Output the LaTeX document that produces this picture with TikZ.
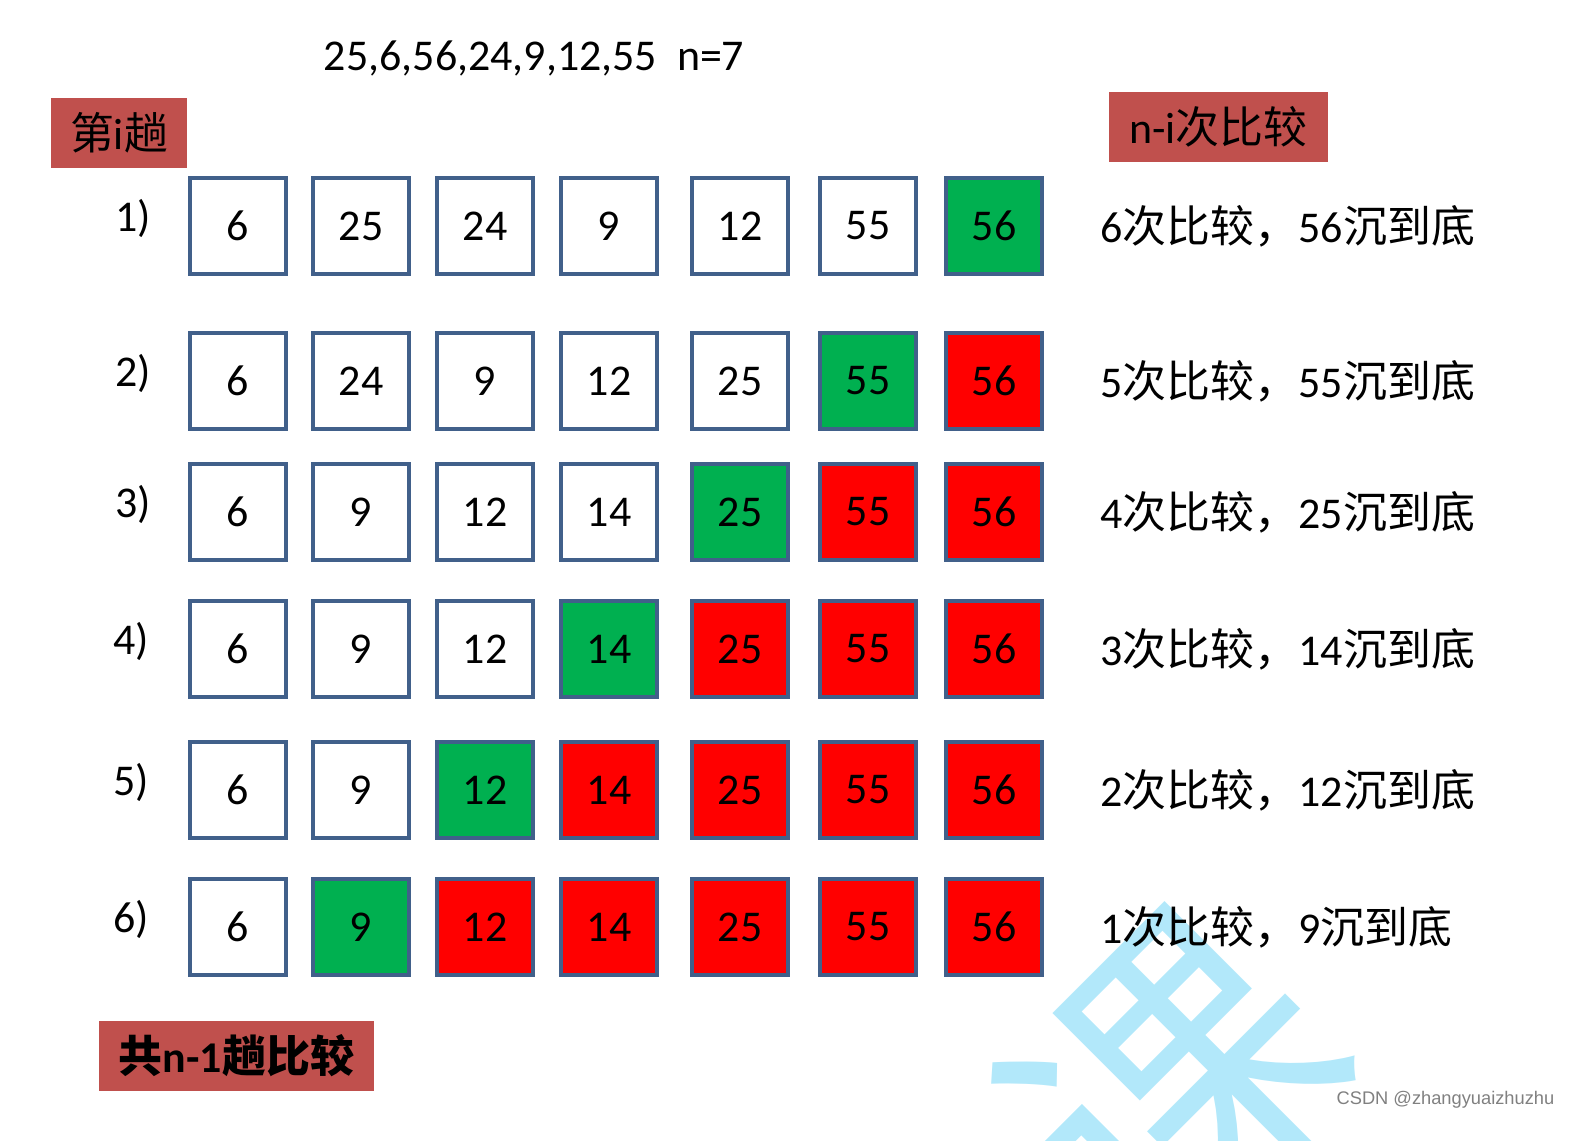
\documentclass[tikz,border=0pt]{standalone}
\usepackage{fontspec}
\setmainfont{Carlito}
\newfontfamily\zhfont{Noto Sans CJK SC}
\newfontfamily\markfont{Liberation Sans}
\usepackage{tikz}
\usetikzlibrary{calc}

\definecolor{hdred}{RGB}{192,80,77}
\definecolor{cellblue}{RGB}{65,96,138}
\definecolor{sunkgreen}{RGB}{0,176,80}
\definecolor{sunkred}{RGB}{255,0,0}
\definecolor{wmblue}{RGB}{178,232,250}

\begin{document}
\begin{tikzpicture}

    \tikzstyle{cell}=[rectangle, draw=cellblue, line width=1.1pt, minimum size=0.96cm, inner sep=0pt, font=\fontsize{12.5}{14}\selectfont];
    \tikzstyle{sinking}=[cell, fill=sunkgreen];
    \tikzstyle{sunk}=[cell, fill=sunkred];
    \tikzstyle{header}=[rectangle, fill=hdred, inner sep=0pt, minimum height=0.70cm, font=\fontsize{12.5}{14}\selectfont];
    \tikzstyle{txt}=[inner sep=0pt, font=\fontsize{12.5}{14}\selectfont];

    \useasboundingbox (0,0) rectangle (15.96,-11.40);

    % watermark
    \begin{scope}
    \clip (0,0) rectangle (15.96,-11.40);
    \node[text=wmblue, rotate=45, inner sep=0pt, font=\zhfont\fontsize{90}{90}\selectfont] (wm) at (11.72,-10.85) {课};
    \end{scope}

    \node[txt] (seq) at (5.34,-0.58) {25,6,56,24,9,12,55\ \ n=7};
    \node[header, minimum width=1.36cm] (pass) at (1.19,-1.33) {{\zhfont 第}i{\zhfont 趟}};
    \node[header, minimum width=2.19cm] (cmp) at (12.185,-1.27) {n-i{\zhfont 次比较}};
    \node[header, minimum width=2.75cm] (total) at (2.365,-10.56) {{\zhfont\bfseries 共}\textbf{n-1}{\zhfont\bfseries 趟比较}};

    % 1)
    \node[cell] (r1c1) at (2.38,-2.26) {6};
    \node[cell] (r1c2) at ($(r1c1)+(1.23,0)$) {25};
    \node[cell] (r1c3) at ($(r1c2)+(1.24,0)$) {24};
    \node[cell] (r1c4) at ($(r1c3)+(1.24,0)$) {9};
    \node[cell] (r1c5) at ($(r1c4)+(1.31,0)$) {12};
    \node[cell] (r1c6) at ($(r1c5)+(1.28,0)$) {55};
    \node[sinking] (r1c7) at ($(r1c6)+(1.26,0)$) {56};

    % 2)
    \node[cell] (r2c1) at ($(r1c1)+(0,-1.55)$) {6};
    \node[cell] (r2c2) at ($(r1c2)+(0,-1.55)$) {24};
    \node[cell] (r2c3) at ($(r1c3)+(0,-1.55)$) {9};
    \node[cell] (r2c4) at ($(r1c4)+(0,-1.55)$) {12};
    \node[cell] (r2c5) at ($(r1c5)+(0,-1.55)$) {25};
    \node[sinking] (r2c6) at ($(r1c6)+(0,-1.55)$) {55};
    \node[sunk] (r2c7) at ($(r1c7)+(0,-1.55)$) {56};

    % 3)
    \node[cell] (r3c1) at ($(r2c1)+(0,-1.31)$) {6};
    \node[cell] (r3c2) at ($(r2c2)+(0,-1.31)$) {9};
    \node[cell] (r3c3) at ($(r2c3)+(0,-1.31)$) {12};
    \node[cell] (r3c4) at ($(r2c4)+(0,-1.31)$) {14};
    \node[sinking] (r3c5) at ($(r2c5)+(0,-1.31)$) {25};
    \node[sunk] (r3c6) at ($(r2c6)+(0,-1.31)$) {55};
    \node[sunk] (r3c7) at ($(r2c7)+(0,-1.31)$) {56};

    % 4)
    \node[cell] (r4c1) at ($(r3c1)+(0,-1.37)$) {6};
    \node[cell] (r4c2) at ($(r3c2)+(0,-1.37)$) {9};
    \node[cell] (r4c3) at ($(r3c3)+(0,-1.37)$) {12};
    \node[sinking] (r4c4) at ($(r3c4)+(0,-1.37)$) {14};
    \node[sunk] (r4c5) at ($(r3c5)+(0,-1.37)$) {25};
    \node[sunk] (r4c6) at ($(r3c6)+(0,-1.37)$) {55};
    \node[sunk] (r4c7) at ($(r3c7)+(0,-1.37)$) {56};

    % 5)
    \node[cell] (r5c1) at ($(r4c1)+(0,-1.41)$) {6};
    \node[cell] (r5c2) at ($(r4c2)+(0,-1.41)$) {9};
    \node[sinking] (r5c3) at ($(r4c3)+(0,-1.41)$) {12};
    \node[sunk] (r5c4) at ($(r4c4)+(0,-1.41)$) {14};
    \node[sunk] (r5c5) at ($(r4c5)+(0,-1.41)$) {25};
    \node[sunk] (r5c6) at ($(r4c6)+(0,-1.41)$) {55};
    \node[sunk] (r5c7) at ($(r4c7)+(0,-1.41)$) {56};

    % 6)
    \node[cell] (r6c1) at ($(r5c1)+(0,-1.37)$) {6};
    \node[sinking] (r6c2) at ($(r5c2)+(0,-1.37)$) {9};
    \node[sunk] (r6c3) at ($(r5c3)+(0,-1.37)$) {12};
    \node[sunk] (r6c4) at ($(r5c4)+(0,-1.37)$) {14};
    \node[sunk] (r6c5) at ($(r5c5)+(0,-1.37)$) {25};
    \node[sunk] (r6c6) at ($(r5c6)+(0,-1.37)$) {55};
    \node[sunk] (r6c7) at ($(r5c7)+(0,-1.37)$) {56};

    % pass numbers
    \node[txt] (l1) at ($(r1c1)+(-1.05,0.08)$) {1)};
    \node[txt] (l2) at ($(r2c1)+(-1.05,0.08)$) {2)};
    \node[txt] (l3) at ($(r3c1)+(-1.05,0.08)$) {3)};
    \node[txt] (l4) at ($(r4c1)+(-1.07,0.08)$) {4)};
    \node[txt] (l5) at ($(r5c1)+(-1.07,0.08)$) {5)};
    \node[txt] (l6) at ($(r6c1)+(-1.07,0.08)$) {6)};

    % comparisons per pass
    \node[txt, anchor=west] (t1) at ($(r1c7)+(1.06,0)$) {6{\zhfont 次比较，}56{\zhfont 沉到底}};
    \node[txt, anchor=west] (t2) at ($(r2c7)+(1.06,0)$) {5{\zhfont 次比较，}55{\zhfont 沉到底}};
    \node[txt, anchor=west] (t3) at ($(r3c7)+(1.06,0)$) {4{\zhfont 次比较，}25{\zhfont 沉到底}};
    \node[txt, anchor=west] (t4) at ($(r4c7)+(1.06,0)$) {3{\zhfont 次比较，}14{\zhfont 沉到底}};
    \node[txt, anchor=west] (t5) at ($(r5c7)+(1.06,0)$) {2{\zhfont 次比较，}12{\zhfont 沉到底}};
    \node[txt, anchor=west] (t6) at ($(r6c7)+(1.06,0)$) {1{\zhfont 次比较，}9{\zhfont 沉到底}};

    \node[inner sep=0pt, anchor=east, text=black!50, font=\markfont\fontsize{5.2}{6}\selectfont] (csdn) at (15.55,-11.00) {CSDN @zhangyuaizhuzhu};

\end{tikzpicture}
\end{document}
